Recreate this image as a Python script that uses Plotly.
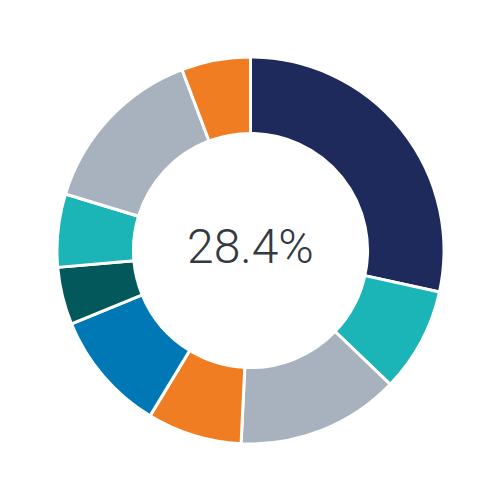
import plotly.graph_objects as go

labels = ["A", "B", "C", "D", "E", "F", "G", "H", "I"]
values = [28.4, 8.7, 13.6, 7.9, 10.1, 4.8, 6.1, 14.5, 5.75]
colors = ["#1d2a5b", "#1cb5b7", "#a8b2bf", "#f07d21", "#0078b6",
          "#02585a", "#1cb5b7", "#a8b2bf", "#f07d21"]
center_text = "28.4%"

fig = go.Figure(go.Pie(
    labels=labels,
    values=values,
    hole=0.605,
    sort=False,
    direction="clockwise",
    rotation=0,
    marker=dict(colors=colors, line=dict(color="white", width=3)),
    textinfo="none",
    hoverinfo="label+percent",
))

fig.add_annotation(
    text=center_text, x=0.5, y=0.51, xref="paper", yref="paper",
    showarrow=False,
    font=dict(family="Roboto", size=48, color="#343a42", weight=300),
)

fig.update_layout(
    width=500, height=500,
    margin=dict(l=49, r=64, t=49, b=64),
    showlegend=False,
    paper_bgcolor="white",
    plot_bgcolor="white",
)

fig.write_html("out.html")
